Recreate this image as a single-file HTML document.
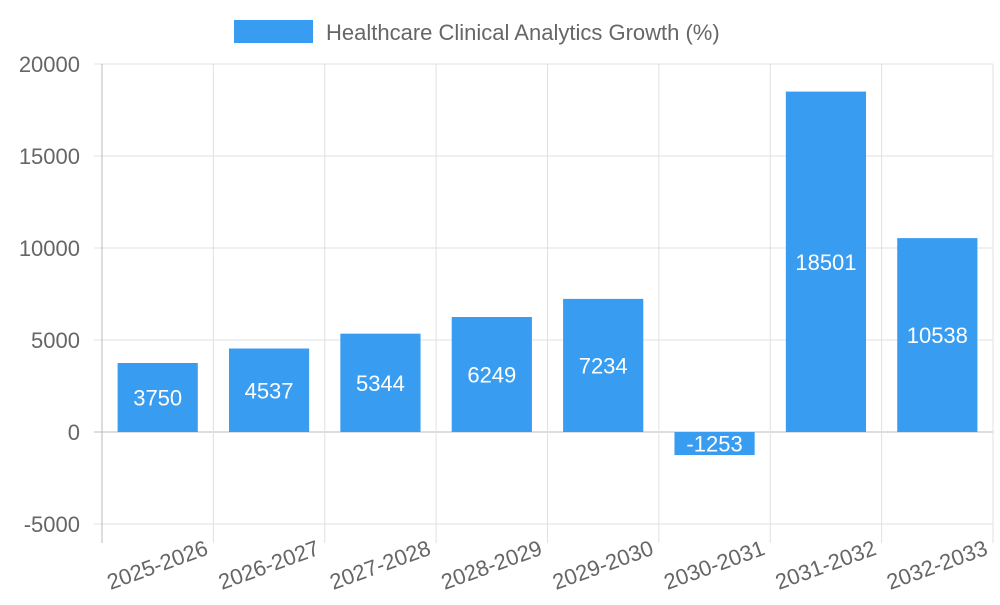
<!DOCTYPE html>
<html><head><meta charset="utf-8"><style>
body{margin:0;background:#fff;font-family:"Liberation Sans",sans-serif}
</style></head><body>
<svg id="c" width="1000" height="600" xmlns="http://www.w3.org/2000/svg">
<g>
<rect x="234" y="20" width="79" height="23" fill="#389cf0"/>
<text x="326" y="40" font-size="22" fill="#666">Healthcare Clinical Analytics Growth (%)</text>
</g>
<g id="grid"></g><g id="bars"></g><g id="labels"></g>
</svg>
<script>
const categories=["2025-2026","2026-2027","2027-2028","2028-2029","2029-2030","2030-2031","2031-2032","2032-2033"];
const values=[3750,4537,5344,6249,7234,-1253,18501,10538];
const yTicks=[20000,15000,10000,5000,0,-5000];
const L=102,R=993,T=64,B=524,yMax=20000,yMin=-5000;
const ns="http://www.w3.org/2000/svg";
const y=v=>T+(yMax-v)/(yMax-yMin)*(B-T);
const slot=(R-L)/categories.length;
const x=i=>L+slot*i;
function mk(t,a,p,txt){const e=document.createElementNS(ns,t);for(const k in a)e.setAttribute(k,a[k]);if(txt!==undefined)e.textContent=txt;p.appendChild(e);return e;}
const g=document.getElementById('grid'),bg=document.getElementById('bars'),lg=document.getElementById('labels');
yTicks.forEach(v=>{
 const l=mk('line',{x1:94,x2:R,y1:y(v),y2:y(v),stroke:v===0?'#bbb':'#e0e0e0','stroke-width':1},g);
 
 
 const t=mk('text',{x:80,y:y(v)+8,'text-anchor':'end','font-size':22,fill:'#666'},g,String(v));
 
 
});
for(let i=0;i<=categories.length;i++){
 const l=mk('line',{x1:x(i),x2:x(i),y1:T,y2:B+19,stroke:i===0?'#bbb':'#e0e0e0','stroke-width':1},g);
 
 
}
const bw=slot*0.72;
categories.forEach((c,i)=>{
 const cx=x(i)+slot/2,v=values[i];
 const top=Math.min(y(v),y(0)),h=Math.abs(y(v)-y(0));
 const r=mk('rect',{x:cx-bw/2,y:top,width:bw,height:h,fill:'#389cf0'},bg);
 
 
 const t=mk('text',{x:cx,y:top+h/2+8,'text-anchor':'middle','font-size':22,fill:'#fff'},lg,String(v));
 
 
 const xl=mk('text',{x:0,y:0,'text-anchor':'end','font-size':22,fill:'#666',transform:`translate(${cx+slot/2-4},${B+30}) rotate(-20)`},lg,c);
 
 
});
</script>
</body></html>
